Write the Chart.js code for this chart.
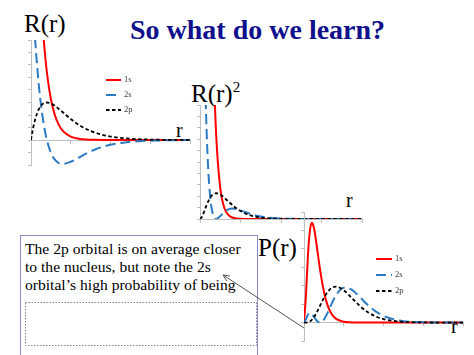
<!DOCTYPE html>
<html>
<head>
<meta charset="utf-8">
<script src="https://cdn.jsdelivr.net/npm/chart.js@4.4.1/dist/chart.umd.min.js"></script>
<style>
  html, body { margin: 0; padding: 0; background: #fff; }
  #page { position: relative; width: 474px; height: 355px; overflow: hidden; background: #fff; }
  #page canvas { position: absolute; }
  #deco { position: absolute; left: 0; top: 0; }
</style>
</head>
<body>
<div id="page">
  <svg id="deco" width="474" height="355" xmlns="http://www.w3.org/2000/svg">
    <g font-family="'Liberation Serif', 'Times New Roman', serif">
      <text x="130" y="39" font-size="28" font-weight="bold" fill="#10108c">So what do we learn?</text>
      <text x="24" y="32" font-size="25" fill="#000">R(r)</text>
      <text x="191" y="102" font-size="25" fill="#000">R(r)<tspan font-size="15" dy="-10">2</tspan></text>
      <text x="258" y="256" font-size="25" fill="#000">P(r)</text>
      <text x="176" y="137" font-size="20" fill="#000">r</text>
      <text x="346" y="207" font-size="20" fill="#000">r</text>
      <text x="451" y="333" font-size="20" fill="#000">r</text>
      <rect x="20.5" y="235.5" width="237" height="140" fill="none" stroke="#8c8cc4" stroke-width="1"/>
      <rect x="25.5" y="302.5" width="231" height="43" fill="none" stroke="#888" stroke-width="1" stroke-dasharray="1.5 1.5"/>
      <text font-size="15.6" fill="#000">
        <tspan x="25" y="254">The 2p orbital is on average closer</tspan>
        <tspan x="25" y="272">to the nucleus, but note the 2s</tspan>
        <tspan x="25" y="290">orbital’s high probability of being</tspan>
      </text>
      <line x1="304" y1="328" x2="223" y2="275" stroke="#555" stroke-width="1"/>
      <polyline points="226.7,281 223,275 229.9,276" fill="none" stroke="#555" stroke-width="1"/>
    </g>
  </svg>
  <canvas id="radial" width="184" height="145" style="left:16px;top:30px"></canvas>
  <canvas id="radialSq" width="190" height="135" style="left:186px;top:95px"></canvas>
  <canvas id="prob" width="184" height="153" style="left:290px;top:202px"></canvas>
</div>
<script>
// radius samples (Bohr radii) shared by all three panels
const rValues = [0, 0.25, 0.5, 0.75, 1, 1.25, 1.5, 1.75, 2, 2.5, 3, 3.5, 4, 5, 6, 7, 8, 9, 10, 12, 14, 16, 18, 20];
const orbitalLabels = ['1s', '2s', '2p'];

// R(r)
const radial1s = [2, 1.558, 1.213, 0.945, 0.736, 0.573, 0.446, 0.348, 0.271, 0.164, 0.0996, 0.0604, 0.0366, 0.0135, 0.005, 0.0018, 0.0007, 0.0002, 0.0001, 0, 0, 0, 0, 0];
const radial2s = [0.707, 0.546, 0.413, 0.304, 0.214, 0.142, 0.0835, 0.0369, 0, -0.0506, -0.0789, -0.0922, -0.0957, -0.0871, -0.0704, -0.0534, -0.0388, -0.0275, -0.0191, -0.0088, -0.0039, -0.0017, -0.0007, -0.0003];
const radial2p = [0, 0.045, 0.0795, 0.105, 0.124, 0.137, 0.145, 0.149, 0.150, 0.146, 0.137, 0.124, 0.111, 0.0838, 0.061, 0.0432, 0.0299, 0.0204, 0.0138, 0.0061, 0.0026, 0.0011, 0.0005, 0.0002];

// R(r)^2
const sq1s = [4, 2.426, 1.472, 0.893, 0.541, 0.328, 0.199, 0.121, 0.0733, 0.027, 0.0099, 0.0037, 0.0013, 0.0002, 0, 0, 0, 0, 0, 0, 0, 0, 0, 0];
const sq2s = [0.5, 0.298, 0.171, 0.0922, 0.046, 0.0201, 0.007, 0.0014, 0, 0.0026, 0.0062, 0.0085, 0.0092, 0.0076, 0.005, 0.0029, 0.0015, 0.0008, 0.0004, 0.0001, 0, 0, 0, 0];
const sq2p = [0, 0.002, 0.0063, 0.0111, 0.0153, 0.0187, 0.0209, 0.0222, 0.0226, 0.0214, 0.0187, 0.0154, 0.0122, 0.007, 0.0037, 0.0019, 0.0009, 0.0004, 0.0002, 0, 0, 0, 0, 0];

// P(r)
const prob1s = [0, 0.152, 0.368, 0.502, 0.541, 0.513, 0.448, 0.37, 0.293, 0.169, 0.0893, 0.0447, 0.0214, 0.0045, 0.0009, 0.0002, 0, 0, 0, 0, 0, 0, 0, 0];
const prob2s = [0, 0.0186, 0.0426, 0.0519, 0.046, 0.0315, 0.0157, 0.0042, 0, 0.016, 0.056, 0.104, 0.1465, 0.1896, 0.1786, 0.1397, 0.0965, 0.061, 0.0363, 0.011, 0.0029, 0.0007, 0.0002, 0];
const prob2p = [0, 0.0001, 0.0016, 0.0062, 0.0153, 0.0291, 0.0471, 0.0679, 0.0902, 0.1336, 0.168, 0.1888, 0.1954, 0.1755, 0.1339, 0.0912, 0.0573, 0.0337, 0.0189, 0.0053, 0.0013, 0.0003, 0.0001, 0];

const AXIS = '#bfbfbf';
const RED = '#ff0000';
const BLUE = '#2a7bc4';
const BLACK = '#000000';

// small legend drawn inside the plot, like the slide's
const lineLegend = {
  id: 'lineLegend',
  afterDatasetsDraw(chart, args, opts) {
    if (!opts || opts.x == null) return;
    const ctx = chart.ctx;
    ctx.save();
    ctx.font = "8.5px 'Liberation Serif', serif";
    ctx.fillStyle = '#404040';
    ctx.textBaseline = 'middle';
    chart.data.datasets.forEach((ds, i) => {
      const y = opts.y + i * opts.rowGap;
      ctx.strokeStyle = ds.borderColor;
      ctx.lineWidth = ds.borderWidth;
      ctx.setLineDash(ds.borderDash || []);
      ctx.beginPath();
      ctx.moveTo(opts.x, y);
      ctx.lineTo(opts.x + opts.lineLen, y);
      ctx.stroke();
      ctx.setLineDash([]);
      ctx.fillText(ds.label, opts.x + opts.lineLen + 3, y);
    });
    ctx.restore();
  },
};

function points(series) {
  return rValues.map((r, i) => ({ x: r, y: series[i] }));
}

function orbitalDataset(label, series, color, dash, width, order) {
  return {
    label,
    data: points(series),
    borderColor: color,
    backgroundColor: color,
    borderWidth: width,
    borderDash: dash,
    pointRadius: 0,
    fill: false,
    cubicInterpolationMode: 'monotone',
    order,
  };
}

function renderPanel(id, series, yMin, yMax, yStep, padding, legend) {
  const canvas = document.getElementById(id);
  return new Chart(canvas, {
    type: 'line',
    data: {
      datasets: [
        orbitalDataset(orbitalLabels[0], series[0], RED, [], 2, 2),
        orbitalDataset(orbitalLabels[1], series[1], BLUE, [10, 5], 2, 1),
        orbitalDataset(orbitalLabels[2], series[2], BLACK, [3.5, 2.5], 1.8, 0),
      ],
    },
    options: {
      responsive: false,
      animation: false,
      events: [],
      layout: { padding },
      plugins: {
        legend: { display: false },
        tooltip: { enabled: false },
        lineLegend: legend || {},
      },
      scales: {
        x: {
          type: 'linear',
          min: 0,
          max: 20,
          position: { y: 0 },
          ticks: { display: false, stepSize: 5 },
          grid: { drawOnChartArea: false, color: AXIS, tickLength: 3 },
          border: { color: AXIS, width: 1 },
          afterFit: (scale) => { scale.height = 0; },
        },
        y: {
          min: yMin,
          max: yMax,
          position: 'left',
          ticks: { display: false, stepSize: yStep },
          grid: { drawOnChartArea: false, color: AXIS, tickLength: 3 },
          border: { color: AXIS, width: 1 },
          afterFit: (scale) => { scale.width = 0; },
        },
      },
    },
    plugins: [lineLegend],
  });
}

renderPanel('radial', [radial1s, radial2s, radial2p], -0.1, 0.4, 0.05,
  { left: 15, top: 10, right: 10, bottom: 10 },
  { x: 90, y: 50, rowGap: 15, lineLen: 15 });

renderPanel('radialSq', [sq1s, sq2s, sq2p], 0, 0.1, 0.01,
  { left: 14, top: 10, right: 14, bottom: 11 });

renderPanel('prob', [prob1s, prob2s, prob2p], -0.1, 0.6, 0.1,
  { left: 14, top: 10, right: 11, bottom: 14 },
  { x: 86, y: 57, rowGap: 16, lineLen: 16 });
</script>
</body>
</html>
